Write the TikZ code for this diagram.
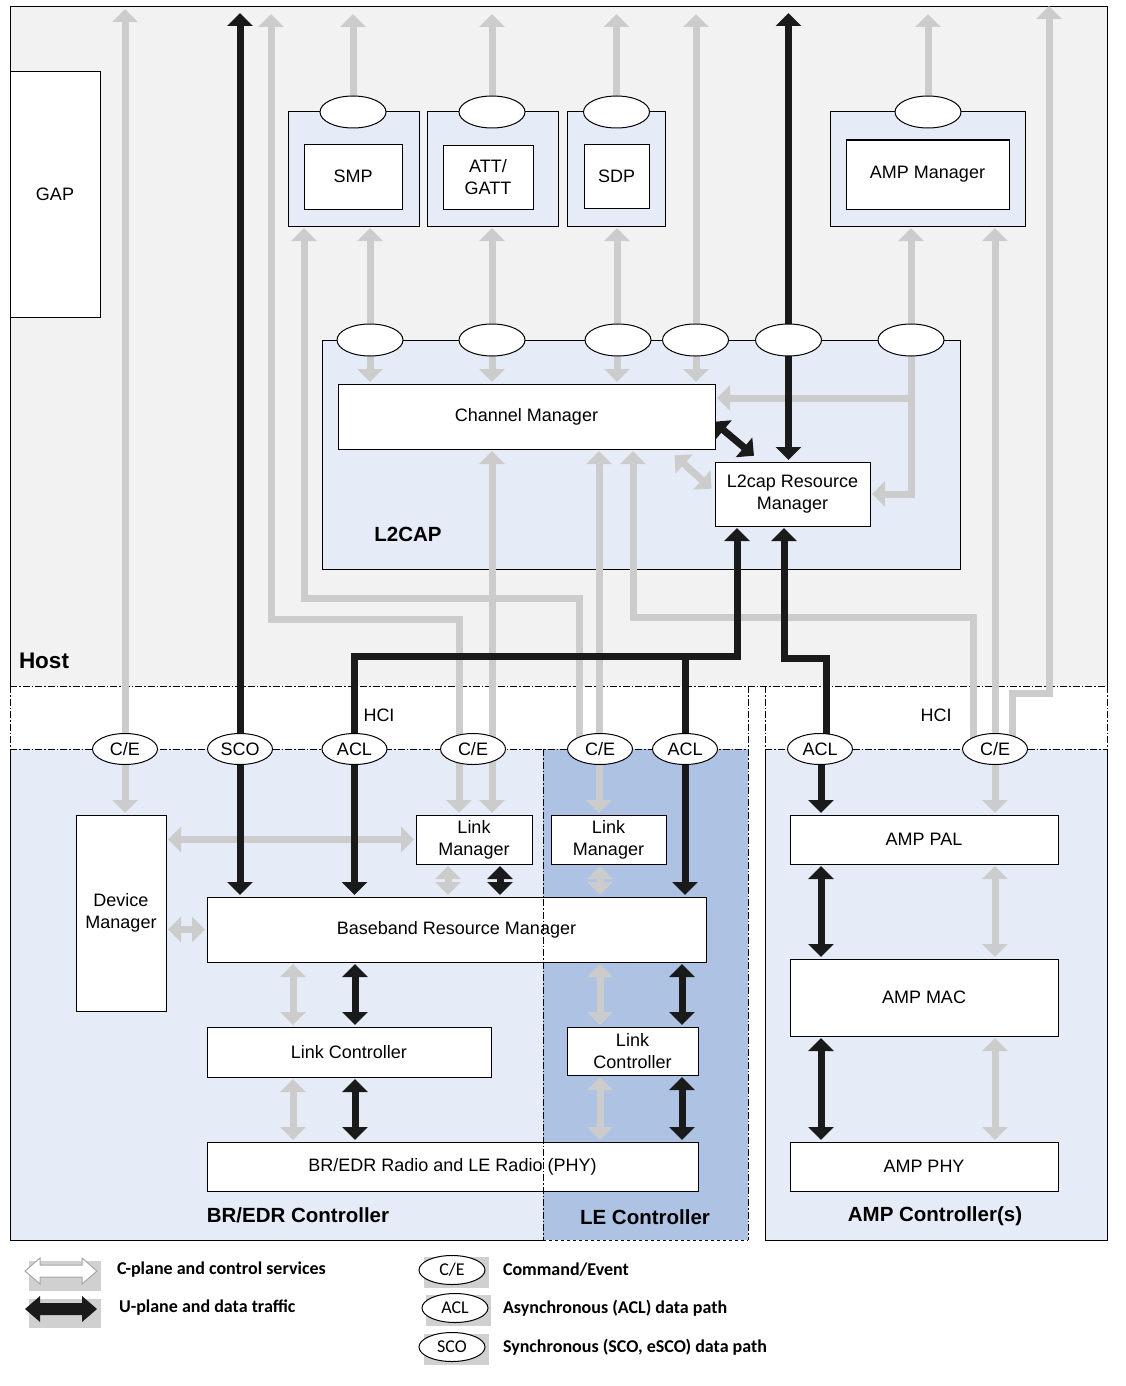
\documentclass[tikz,border=0pt]{standalone}
\usepackage{fontspec}
\setmainfont{Liberation Sans}
\newfontfamily\legfont{Carlito}
\usetikzlibrary{arrows.meta,shapes.geometric}
\definecolor{hostgray}{HTML}{F2F2F2}
\definecolor{ltblue}{HTML}{E6ECF7}
\definecolor{leblue}{HTML}{AEC3E3}
\definecolor{cgray}{HTML}{CCCCCC}
\definecolor{ublack}{HTML}{1A1A1A}
\definecolor{shadowgray}{HTML}{D0D0D0}
\pgfdeclarelayer{back}
\pgfdeclarelayer{mid}
\pgfdeclarelayer{front}
\pgfsetlayers{back,mid,main,front}
\begin{document}
\begin{tikzpicture}[x=1pt,y=-1pt,
  >={Triangle[width=25pt,length=13pt]},
  every node/.style={inner sep=0pt,outer sep=0pt,align=center,font=\fontsize{18}{22}\selectfont},
  box/.style={rectangle,draw=black,line width=1pt,fill=white},
  cont/.style={rectangle,draw=black,line width=1pt,fill=ltblue},
  port/.style={ellipse,draw=black,line width=1pt,fill=white,minimum width=66pt,minimum height=32pt},
  hport/.style={port,minimum width=65pt,minimum height=31pt},
  title/.style={font=\fontsize{20.5}{24}\selectfont\bfseries},
  gar/.style={draw=cgray,line width=7pt,shorten <=2pt,shorten >=2pt},
  bar/.style={draw=ublack,line width=7pt,shorten <=2pt,shorten >=2pt},
  dd/.style={line width=1pt,dash pattern=on 7pt off 2pt on 1.5pt off 2pt},
  legtext/.style={anchor=west,font=\legfont\bfseries\fontsize{18}{22}\selectfont},
  legport/.style={port,minimum width=66pt,minimum height=29pt,font=\legfont\fontsize{18}{22}\selectfont},
]
\useasboundingbox (0,0) rectangle (1126,1386);
% ---------------- backgrounds ----------------
\begin{pgfonlayer}{back}
\fill[white] (0,0) rectangle (1126,1386);
\fill[hostgray] (10,7) rectangle (1107,686);
\fill[ltblue] (10,749) rectangle (543,1240);
\fill[leblue] (543,749) rectangle (748,1240);
\fill[ltblue] (765,749) rectangle (1107,1240);
\draw[line width=1pt] (10,686) -- (10,7) -- (1107,7) -- (1107,686);
\draw[dd] (10,686) -- (1107,686);
\draw[dd] (10,686) -- (10,749);
\draw[dd] (748,686) -- (748,749);
\draw[dd] (765,686) -- (765,749);
\draw[dd] (1107,686) -- (1107,749);
\draw[dd] (10,749) -- (748,749);
\draw[dd] (765,749) -- (1107,749);
\draw[line width=1pt] (10,749) -- (10,1240) -- (543,1240);
\draw[line width=1pt,dashed] (543,1240) -- (748,1240);
\draw[dd] (748,749) -- (748,1240);
\draw[line width=1pt] (765,749) -- (765,1240) -- (1107,1240) -- (1107,749);
% containers
\node[cont,minimum width=131pt,minimum height=114pt] (smpc) at (353.5,169) {};
\node[cont,minimum width=131pt,minimum height=114pt] (attc) at (492.5,169) {};
\node[cont,minimum width=98pt,minimum height=114pt] (sdpc) at (616,169) {};
\node[cont,minimum width=195pt,minimum height=114pt] (ampc) at (927.5,169) {};
\node[cont,minimum width=638pt,minimum height=229pt] (l2cap) at (641,454.5) {};
\end{pgfonlayer}
% ---------------- boxes ----------------
\node[box,minimum width=90pt,minimum height=245pt] (gap) at (55,194.5) {GAP};
\node[box,minimum width=98pt,minimum height=65pt] (smp) at (353,176.5) {SMP};
\node[box,minimum width=90pt,minimum height=64pt] (att) at (488,177) {ATT/\\GATT};
\node[box,minimum width=65pt,minimum height=64pt] (sdp) at (616.5,176) {SDP};
\node[box,minimum width=163pt,minimum height=69pt] (ampm) at (927.5,174.5) {AMP Manager};
\node[box,minimum width=377pt,minimum height=65pt] (cm) at (526.5,416.5) {Channel Manager};
\node[box,minimum width=155pt,minimum height=64pt] (rm) at (792.5,494) {L2cap Resource\\Manager};
\node[box,minimum width=90pt,minimum height=196pt] (dm) at (121,913) {Device\\Manager};
\node[box,minimum width=116pt,minimum height=49pt] (lm1) at (474,839.5) {Link\\Manager};
\node[box,minimum width=115pt,minimum height=49pt] (lm2) at (608.5,839.5) {Link\\Manager};
\node[box,minimum width=499pt,minimum height=65pt] (bb) at (456.5,929.5) {Baseband Resource Manager};
\node[box,minimum width=284pt,minimum height=50pt] (lc1) at (349,1052) {Link Controller};
\node[box,minimum width=131pt,minimum height=48pt] (lc2) at (632.5,1051) {Link\\Controller};
\node[box,minimum width=491pt,minimum height=49pt] (radio) at (452.5,1166.5) {BR/EDR Radio and LE Radio (PHY)};
\node[box,minimum width=268pt,minimum height=49pt] (pal) at (924,839.5) {AMP PAL};
\node[box,minimum width=268pt,minimum height=77pt] (mac) at (924,997.5) {AMP MAC};
\node[box,minimum width=268pt,minimum height=49pt] (phy) at (924,1166.5) {AMP PHY};
% ---------------- ports ----------------
\node[port] (smpo) at (353,112) {};
\node[port] (atto) at (492,112) {};
\node[port] (sdpo) at (616.5,112) {};
\node[port] (ampo) at (928,112) {};
\node[port] (p1) at (370,340) {};
\node[port] (p2) at (492,340) {};
\node[port] (p3) at (618,340) {};
\node[port] (p4) at (695.5,340) {};
\node[port] (p5) at (788.5,340) {};
\node[port] (p6) at (911,340) {};
\node[hport] (h1) at (125,749) {C/E};
\node[hport] (h2) at (240,749) {SCO};
\node[hport] (h3) at (354.5,749) {ACL};
\node[hport] (h4) at (473,749) {C/E};
\node[hport] (h5) at (600,749) {C/E};
\node[hport] (h6) at (685,749) {ACL};
\node[hport] (h7) at (820,749) {ACL};
\node[hport] (h8) at (995,749) {C/E};
% free ends at the top edge
\coordinate (tA) at (125,7);
\coordinate (tB) at (271,12);
\coordinate (tC) at (353,12);
\coordinate (tD) at (492,12);
\coordinate (tE) at (616.5,12);
\coordinate (tF) at (928,12);
\coordinate (tG) at (696,12);
\coordinate (tH) at (1049,4);
\coordinate (tI) at (240,11);
\coordinate (tJ) at (788.5,11);
% ---------------- connectors ----------------
\begin{pgfonlayer}{mid}
% C-plane (grey)
\draw[gar,<->] (125,0 |- dm.north) -- (tA);
\draw[gar,<->] (459,0 |- lm1.north) -- (459,619) -- (271,619) -- (tB);
\draw[gar,->] (smpo.center) -- (tC);
\draw[gar,->] (atto.center) -- (tD);
\draw[gar,->] (sdpo.center) -- (tE);
\draw[gar,->] (ampo.center) -- (tF);
\draw[gar,<->] (696,0 |- cm.north) -- (tG);
\draw[gar,->] (1012,0 |- h8.center) -- (1012,693) -- (1049,693) -- (tH);
\draw[gar,->] (579,0 |- h5.center) -- (579,598) -- (304,598) -- (304,0 |- smpc.south);
\draw[gar,<->] (370,0 |- cm.north) -- (370,0 |- smpc.south);
\draw[gar,<->] (492,0 |- cm.north) -- (492,0 |- attc.south);
\draw[gar,<->] (617,0 |- cm.north) -- (617,0 |- sdpc.south);
\draw[gar,<->] (rm.east) -- (911,0 |- rm.east) -- (911,0 |- ampc.south);
\draw[gar,->] (911,398) -- (cm.east |- 0,398);
\draw[gar,<->] (995,0 |- pal.north) -- (995,0 |- ampc.south);
\draw[gar,->] (973,0 |- h8.center) -- (973,617) -- (633,617) -- (633,0 |- cm.south);
\draw[gar,<->] (492,0 |- lm1.north) -- (492,0 |- cm.south);
\draw[gar,<->] (599,0 |- lm2.north) -- (599,0 |- cm.south);
\draw[gar,<->] ([shift={(-42,-40)}]rm.west) -- ([shift={(-2,-4)}]rm.west);
\draw[gar,<->] (dm.east |- lm1.west) -- (lm1.west);
\draw[gar,<->] (dm.east |- bb.west) -- (bb.west);
\draw[gar,<->] (448,0 |- lm1.south) -- (448,0 |- bb.north);
\draw[gar,<->] (600,0 |- lm2.south) -- (600,0 |- bb.north);
\draw[gar,<->] (293,0 |- bb.south) -- (293,0 |- lc1.north);
\draw[gar,<->] (293,0 |- lc1.south) -- (293,0 |- radio.north);
\draw[gar,<->] (600,0 |- bb.south) -- (600,0 |- lc2.north);
\draw[gar,<->] (600,0 |- lc2.south) -- (600,0 |- radio.north);
\draw[gar,<->] (995,0 |- pal.south) -- (995,0 |- mac.north);
\draw[gar,<->] (995,0 |- mac.south) -- (995,0 |- phy.north);
% U-plane (black)
\draw[bar,<->] (240,0 |- bb.north) -- (tI);
\draw[bar,<->] (788.5,0 |- rm.north) -- (tJ);
\draw[bar,<->] ([shift={(-3,4)}]cm.east) -- ([shift={(-37,-5)}]rm.north);
\draw[bar,<->] (737,0 |- rm.south) -- (737,656) -- (354.5,656) -- (354.5,0 |- bb.north);
\draw[bar,->] (685,652) -- (685,0 |- bb.north);
\draw[bar,<-] (784,0 |- rm.south) -- (784,658) -- (826,658) -- (826,0 |- h7.center);
\draw[bar,->] (821,0 |- h7.center) -- (821,0 |- pal.north);
\draw[bar,<->] (500,0 |- lm1.south) -- (500,0 |- bb.north);
\draw[bar,<->] (355,0 |- bb.south) -- (355,0 |- lc1.north);
\draw[bar,<->] (355,0 |- lc1.south) -- (355,0 |- radio.north);
\draw[bar,<->] (682,0 |- bb.south) -- (682,0 |- lc2.north);
\draw[bar,<->] (682,0 |- lc2.south) -- (682,0 |- radio.north);
\draw[bar,<->] (821,0 |- pal.south) -- (821,0 |- mac.north);
\draw[bar,<->] (821,0 |- mac.south) -- (821,0 |- phy.north);
\end{pgfonlayer}
% ---------------- front ----------------
\begin{pgfonlayer}{front}
\draw[dd] (543,749) -- (543,1240);
\end{pgfonlayer}
% ---------------- labels ----------------
\node[anchor=west,font=\fontsize{22.5}{26}\selectfont\bfseries] (host) at (19,661) {Host};
\node[title] (l2lbl) at (408,534) {L2CAP};
\node (hci1) at (379,715) {HCI};
\node (hci2) at (936,715) {HCI};
\node[title] (brlbl) at (298,1215) {BR/EDR Controller};
\node[title] (lelbl) at (645,1217) {LE Controller};
\node[title] (amplbl) at (935,1216) {AMP Controller(s)};
% ---------------- legend ----------------
\fill[shadowgray] (29,1261) rectangle (101,1291);
\draw[gray!70,fill=white,line width=1pt] (25,1271) -- (40,1258) -- (40,1265) -- (82,1265) -- (82,1258) -- (97,1271) -- (82,1284) -- (82,1277) -- (40,1277) -- (40,1284) -- cycle;
\fill[shadowgray] (29,1299) rectangle (101,1328);
\fill[ublack] (25,1309) -- (40,1296) -- (40,1303) -- (82,1303) -- (82,1296) -- (97,1309) -- (82,1322) -- (82,1315) -- (40,1315) -- (40,1322) -- cycle;
\node[legtext] (lg1) at (117,1270) {C-plane and control services};
\node[legtext] (lg2) at (119,1308) {U-plane and data traffic};
\fill[shadowgray] (424,1257) rectangle (489,1288);
\fill[shadowgray] (426,1295) rectangle (491,1326);
\fill[shadowgray] (424,1334) rectangle (489,1365);
\node[legport] (lce) at (452,1270) {C/E};
\node[legport] (lacl) at (455,1308) {ACL};
\node[legport] (lsco) at (452,1347) {SCO};
\node[legtext] (lg3) at (503,1270) {Command/Event};
\node[legtext] (lg4) at (503,1308) {Asynchronous (ACL) data path};
\node[legtext] (lg5) at (503,1347) {Synchronous (SCO, eSCO) data path};
\end{tikzpicture}
\end{document}
